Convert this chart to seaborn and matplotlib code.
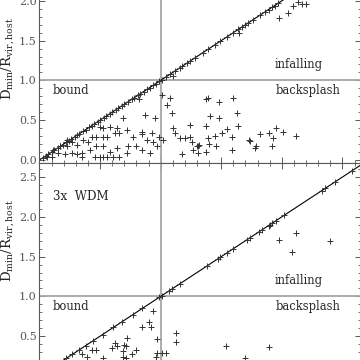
import numpy as np
import pandas as pd
import seaborn as sns
import matplotlib.pyplot as plt
from matplotlib.ticker import MultipleLocator

sns.set_style("ticks")
COLOR = "0.35"
plt.rcParams["font.family"] = ["DejaVu Serif"]
plt.rcParams["mathtext.fontset"] = "dejavuserif"
plt.rcParams["text.color"] = "0.15"
plt.rcParams["axes.edgecolor"] = COLOR
plt.rcParams["xtick.color"] = COLOR
plt.rcParams["ytick.color"] = COLOR

# ---- CDM panel (top): subhaloes sitting on D_min = D (infalling) ----
cdm_diag = [0.03, 0.05, 0.07, 0.10, 0.12, 0.15, 0.17, 0.19, 0.22, 0.24, 0.26,
            0.29, 0.31, 0.33, 0.36, 0.38, 0.41, 0.43, 0.45, 0.48, 0.50, 0.53,
            0.55, 0.58, 0.60, 0.63, 0.65, 0.68, 0.70, 0.73, 0.76, 0.78, 0.81,
            0.83, 0.86, 0.89, 0.91, 0.94, 0.96, 0.99, 1.01, 1.04, 1.08, 1.12,
            1.16, 1.18, 1.22, 1.24, 1.28, 1.35, 1.39, 1.45, 1.49, 1.55, 1.60,
            1.64, 1.67, 1.70, 1.72, 1.76, 1.82, 1.86, 1.89, 1.92, 1.94, 1.97]

# CDM subhaloes off the diagonal
cdm_x = [1.01, 1.08, 1.09, 0.87, 0.95, 0.82, 0.69, 0.58, 0.52, 0.50, 0.64,
         0.66, 0.62, 0.72, 0.77, 0.85, 0.85, 0.89, 0.93, 0.94, 0.99, 1.02,
         1.10, 1.12, 0.43, 0.47, 0.52, 0.56, 0.40, 0.36, 0.31, 0.27, 0.23,
         0.23, 0.17, 0.11, 0.15, 0.21, 0.27, 0.31, 0.35, 0.42, 0.47, 0.52,
         0.58, 0.64, 0.66, 0.72, 0.73, 0.52, 0.56, 0.61, 0.46, 0.50, 0.35,
         0.06, 0.10, 0.80, 0.85, 0.91, 0.97, 1.05,
         1.37, 1.39, 1.48, 1.60, 1.41, 1.48, 1.63, 1.24, 1.37, 1.55, 1.64,
         1.51, 1.59, 1.16, 1.20, 1.24, 1.45, 1.39, 1.26, 1.30, 1.31, 1.32,
         1.40, 1.46, 1.27, 1.31, 1.37, 1.18, 1.59, 1.73, 1.74, 1.82, 1.89,
         1.95, 2.01, 1.93, 1.79, 1.78, 1.92, 2.12,
         1.10, 1.65, 1.98, 2.05, 2.09, 2.13, 2.17, 2.20]
cdm_y = [0.82, 0.78, 0.59, 0.57, 0.53, 0.77, 0.53, 0.42, 0.40, 0.42, 0.40,
         0.34, 0.34, 0.38, 0.29, 0.35, 0.32, 0.25, 0.34, 0.22, 0.29, 0.25,
         0.40, 0.34, 0.29, 0.29, 0.29, 0.29, 0.22, 0.25, 0.19, 0.23, 0.25,
         0.17, 0.17, 0.13, 0.09, 0.07, 0.09, 0.07, 0.09, 0.13, 0.17, 0.17,
         0.10, 0.15, 0.04, 0.09, 0.17, 0.04, 0.04, 0.04, 0.04, 0.04, 0.04,
         0.04, 0.04, 0.17, 0.13, 0.09, 0.17, 0.69,
         0.77, 0.78, 0.73, 0.78, 0.55, 0.53, 0.59, 0.44, 0.43, 0.39, 0.43,
         0.34, 0.29, 0.28, 0.28, 0.29, 0.30, 0.28, 0.23, 0.17, 0.18, 0.19,
         0.20, 0.18, 0.12, 0.09, 0.10, 0.08, 0.13, 0.25, 0.24, 0.33, 0.34,
         0.40, 0.35, 0.28, 0.18, 0.15, 0.17, 0.30,
         1.06, 1.60, 1.79, 1.85, 1.94, 1.99, 1.96, 1.96]

# ---- 3x WDM panel (bottom) ----
wdm_diag = [0.22, 0.27, 0.33, 0.38, 0.44, 0.52, 0.61, 0.68, 0.77, 0.85, 0.99,
            1.01, 1.07, 1.09, 1.16, 1.38, 1.47, 1.49, 1.55, 1.60, 1.71, 1.74,
            1.81, 1.84, 1.89, 1.90, 1.92, 1.95, 2.02, 2.33, 2.36, 2.44, 2.58]
wdm_x = [0.94, 0.90, 0.85, 0.92, 1.13, 1.13, 0.97, 0.72, 0.70, 0.71, 0.62,
         0.64, 0.80, 0.47, 0.43, 0.69, 1.01, 1.04, 0.97, 0.52, 0.69, 0.71,
         0.96, 1.54, 1.89, 1.70, 0.35, 0.39, 0.76, 0.60,
         1.98, 2.12, 2.08, 2.40]
wdm_y = [0.81, 0.68, 0.61, 0.61, 0.54, 0.43, 0.46, 0.48, 0.39, 0.37, 0.41,
         0.37, 0.33, 0.33, 0.33, 0.31, 0.29, 0.29, 0.29, 0.23, 0.24, 0.23,
         0.24, 0.38, 0.36, 0.23, 0.27, 0.24, 0.27, 0.35,
         1.71, 1.80, 1.56, 1.70]

XLIM = (0, 2.65)
YLIM = (-0.035, 2.68)
YLABEL = r"$\mathrm{D_{min}/R_{vir,host}}$"


def panel(ax, diag, xs, ys, label_y, title=None):
    pts = pd.DataFrame({"D": list(diag) + list(xs),
                        "Dmin": list(diag) + list(ys)})
    ax.axhline(1.0, color="0.65", lw=1.3, zorder=1)
    ax.axvline(1.0, color="0.65", lw=1.3, zorder=1)
    ax.plot([0, 3], [0, 3], color="k", lw=0.8, zorder=2)
    sns.scatterplot(data=pts, x="D", y="Dmin", marker="+", s=16,
                    color="0.2", linewidth=0.7, ax=ax, zorder=3, legend=False)
    ax.set_xlim(*XLIM)
    ax.set_ylim(*YLIM)
    ax.xaxis.set_major_locator(MultipleLocator(0.5))
    ax.xaxis.set_minor_locator(MultipleLocator(0.1))
    ax.yaxis.set_major_locator(MultipleLocator(0.5))
    ax.yaxis.set_minor_locator(MultipleLocator(0.1))
    ax.yaxis.set_major_formatter(lambda v, pos: f"{v:.1f}")
    ax.tick_params(which="both", direction="in", top=True, right=True,
                   labelbottom=False, labelsize=8, pad=2)
    ax.tick_params(which="major", length=4.5, width=0.7)
    ax.tick_params(which="minor", length=2.5, width=0.6)
    for sp in ax.spines.values():
        sp.set_linewidth(0.8)
    ax.set_xlabel("")
    ax.set_ylabel(YLABEL, fontsize=9.5)
    ax.yaxis.set_label_coords(-0.072, label_y)
    fs = 8.3
    ax.text(0.11, 0.83, "bound", fontsize=fs, va="baseline")
    ax.text(1.94, 1.15, "infalling", fontsize=fs, va="baseline")
    ax.text(1.95, 0.83, "backsplash", fontsize=fs, va="baseline")
    if title:
        ax.text(0.11, 2.21, title, fontsize=8.6, va="baseline")


fig = plt.figure(figsize=(3.6, 3.6), dpi=100)
ax_top = fig.add_axes([0.1097, 0.548, 0.892, 0.6])
ax_bot = fig.add_axes([0.1097, -0.052, 0.892, 0.6])
panel(ax_top, cdm_diag, cdm_x, cdm_y, 0.482)
panel(ax_bot, wdm_diag, wdm_x, wdm_y, 0.64, title="3x  WDM")

fig.savefig("out.png", dpi=100)
